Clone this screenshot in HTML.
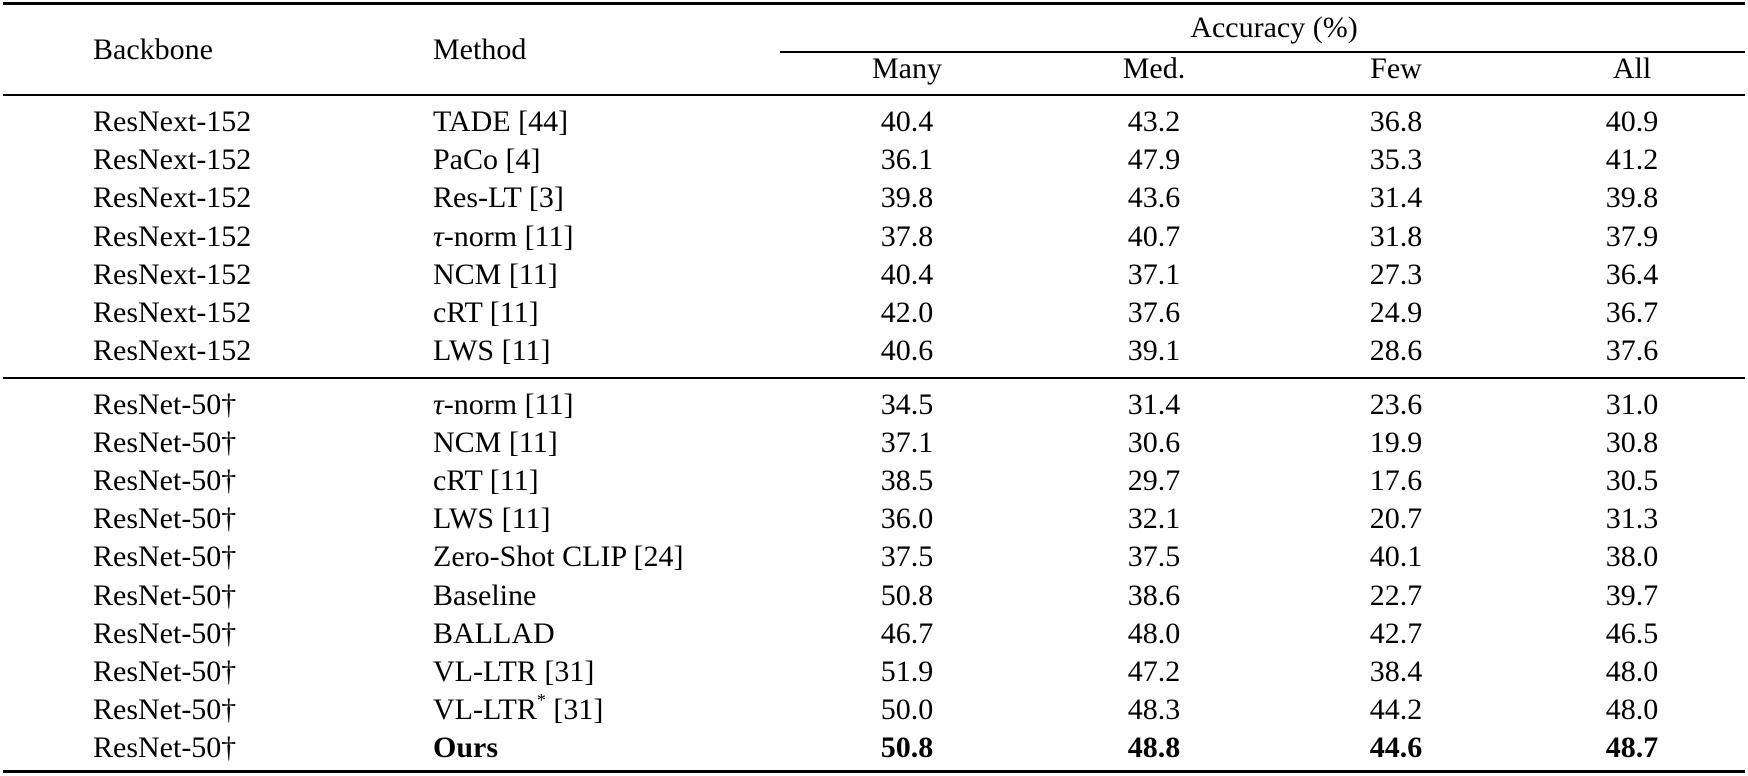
<!DOCTYPE html>
<html>
<head>
<meta charset="utf-8">
<style>
  html,body{margin:0;padding:0;background:#fff;}
  body{width:1748px;height:776px;position:relative;overflow:hidden;
       font-family:"Liberation Serif","DejaVu Serif",serif;font-size:30px;color:#000;}
  .rule{position:absolute;background:#000;}
  .r{position:absolute;left:0;width:1748px;height:30px;line-height:30px;white-space:nowrap;}
  .r span{position:absolute;top:0;}
  .b{left:93px;}
  .m{left:433px;}
  .c1,.c2,.c3,.c4{width:200px;text-align:center;}
  .c1{left:807px;}
  .c2{left:1054px;}
  .c3{left:1296px;}
  .c4{left:1532px;}
  .bold{font-weight:bold;}
  sup{font-size:18px;line-height:0;position:relative;top:-2px;vertical-align:super;}
</style>
</head>
<body>
  <div class="rule" style="left:3px;width:1742px;top:2px;height:3px;"></div>
  <div class="rule" style="left:780px;width:965px;top:51px;height:2px;"></div>
  <div class="rule" style="left:3px;width:1742px;top:94px;height:2px;"></div>
  <div class="rule" style="left:3px;width:1742px;top:377px;height:2px;"></div>
  <div class="rule" style="left:3px;width:1742px;top:770px;height:3px;"></div>

  <div class="r" style="top:13px;"><span style="left:1074px;width:400px;text-align:center;">Accuracy (%)</span></div>
  <div class="r" style="top:35px;"><span class="b">Backbone</span><span class="m">Method</span></div>
  <div class="r" style="top:54px;"><span class="c1">Many</span><span class="c2">Med.</span><span class="c3">Few</span><span class="c4">All</span></div>

  <div class="r" style="top:107px;"><span class="b">ResNext-152</span><span class="m">TADE [44]</span><span class="c1">40.4</span><span class="c2">43.2</span><span class="c3">36.8</span><span class="c4">40.9</span></div>
  <div class="r" style="top:145.2px;"><span class="b">ResNext-152</span><span class="m">PaCo [4]</span><span class="c1">36.1</span><span class="c2">47.9</span><span class="c3">35.3</span><span class="c4">41.2</span></div>
  <div class="r" style="top:183.4px;"><span class="b">ResNext-152</span><span class="m">Res-LT [3]</span><span class="c1">39.8</span><span class="c2">43.6</span><span class="c3">31.4</span><span class="c4">39.8</span></div>
  <div class="r" style="top:221.6px;"><span class="b">ResNext-152</span><span class="m"><i>τ</i>-norm [11]</span><span class="c1">37.8</span><span class="c2">40.7</span><span class="c3">31.8</span><span class="c4">37.9</span></div>
  <div class="r" style="top:259.8px;"><span class="b">ResNext-152</span><span class="m">NCM [11]</span><span class="c1">40.4</span><span class="c2">37.1</span><span class="c3">27.3</span><span class="c4">36.4</span></div>
  <div class="r" style="top:298px;"><span class="b">ResNext-152</span><span class="m">cRT [11]</span><span class="c1">42.0</span><span class="c2">37.6</span><span class="c3">24.9</span><span class="c4">36.7</span></div>
  <div class="r" style="top:336.2px;"><span class="b">ResNext-152</span><span class="m">LWS [11]</span><span class="c1">40.6</span><span class="c2">39.1</span><span class="c3">28.6</span><span class="c4">37.6</span></div>

  <div class="r" style="top:390px;"><span class="b">ResNet-50†</span><span class="m"><i>τ</i>-norm [11]</span><span class="c1">34.5</span><span class="c2">31.4</span><span class="c3">23.6</span><span class="c4">31.0</span></div>
  <div class="r" style="top:428.1px;"><span class="b">ResNet-50†</span><span class="m">NCM [11]</span><span class="c1">37.1</span><span class="c2">30.6</span><span class="c3">19.9</span><span class="c4">30.8</span></div>
  <div class="r" style="top:466.2px;"><span class="b">ResNet-50†</span><span class="m">cRT [11]</span><span class="c1">38.5</span><span class="c2">29.7</span><span class="c3">17.6</span><span class="c4">30.5</span></div>
  <div class="r" style="top:504.3px;"><span class="b">ResNet-50†</span><span class="m">LWS [11]</span><span class="c1">36.0</span><span class="c2">32.1</span><span class="c3">20.7</span><span class="c4">31.3</span></div>
  <div class="r" style="top:542.4px;"><span class="b">ResNet-50†</span><span class="m">Zero-Shot CLIP [24]</span><span class="c1">37.5</span><span class="c2">37.5</span><span class="c3">40.1</span><span class="c4">38.0</span></div>
  <div class="r" style="top:580.5px;"><span class="b">ResNet-50†</span><span class="m">Baseline</span><span class="c1">50.8</span><span class="c2">38.6</span><span class="c3">22.7</span><span class="c4">39.7</span></div>
  <div class="r" style="top:618.6px;"><span class="b">ResNet-50†</span><span class="m">BALLAD</span><span class="c1">46.7</span><span class="c2">48.0</span><span class="c3">42.7</span><span class="c4">46.5</span></div>
  <div class="r" style="top:656.7px;"><span class="b">ResNet-50†</span><span class="m">VL-LTR [31]</span><span class="c1">51.9</span><span class="c2">47.2</span><span class="c3">38.4</span><span class="c4">48.0</span></div>
  <div class="r" style="top:694.8px;"><span class="b">ResNet-50†</span><span class="m">VL-LTR<sup>*</sup> [31]</span><span class="c1">50.0</span><span class="c2">48.3</span><span class="c3">44.2</span><span class="c4">48.0</span></div>
  <div class="r" style="top:732.9px;"><span class="b">ResNet-50†</span><span class="m bold">Ours</span><span class="c1 bold">50.8</span><span class="c2 bold">48.8</span><span class="c3 bold">44.6</span><span class="c4 bold">48.7</span></div>
</body>
</html>
